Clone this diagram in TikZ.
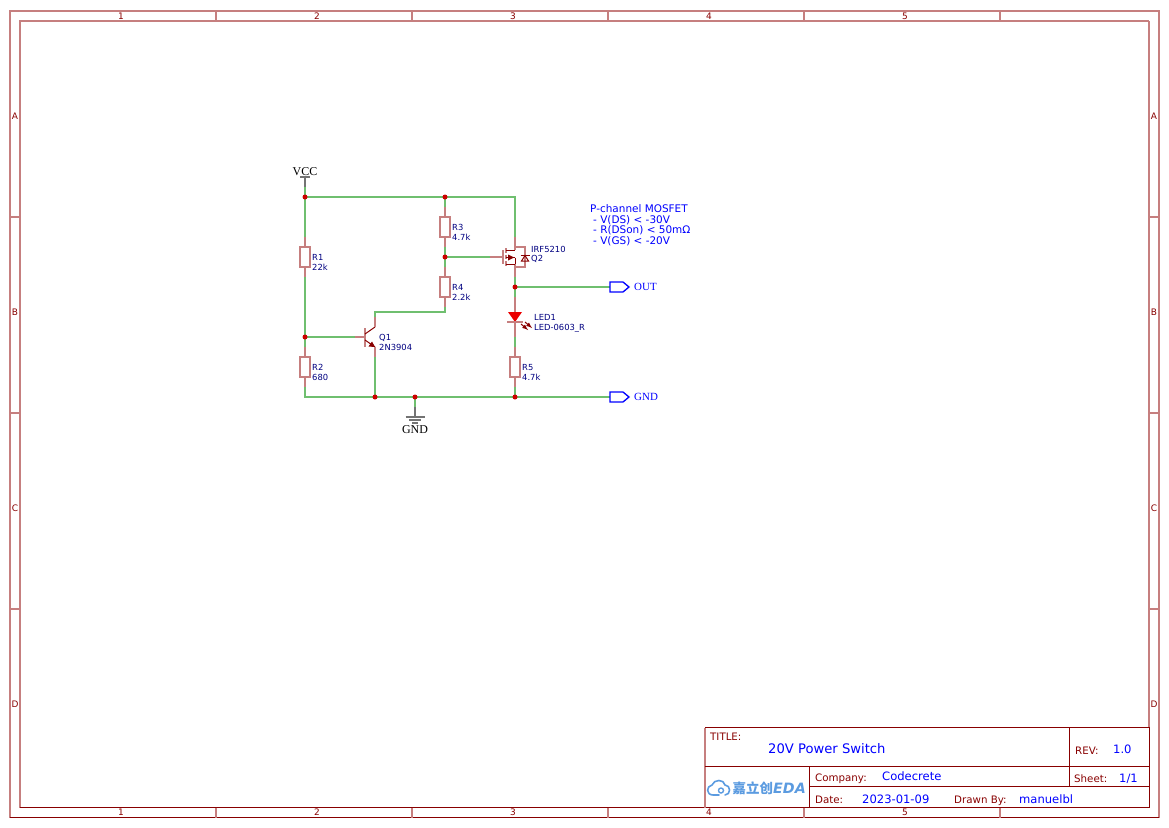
\documentclass[tikz,border=0pt]{standalone}
\usepackage{fontspec}
\setmainfont{DejaVu Sans}
\newfontfamily\netfont{Liberation Serif}
\newfontfamily\cjkfont{Noto Sans CJK SC}
\definecolor{framered}{HTML}{880000}
\definecolor{softred}{HTML}{C67F7F}
\definecolor{softgreen}{HTML}{6FBF6F}
\definecolor{partblue}{HTML}{000080}
\definecolor{logoblue}{HTML}{5B9BE0}
\tikzset{
	frameline/.style={softred,line width=2bp},
	blockline/.style={framered,line width=1bp},
	wire/.style={softgreen,line width=2bp},
	sym/.style={softred,line width=2bp},
	symthin/.style={framered,line width=1bp},
	pwr/.style={black!55,line width=2bp},
	res/.style={draw=softred,line width=2bp,minimum width=10bp,minimum height=20bp,inner sep=0pt,outer sep=0pt},
	junction/.style={fill=red!80!black,draw=none,circle,minimum size=5bp,inner sep=0pt},
	flag/.style={blue,line width=1.3bp},
	partlbl/.style={partblue,font=\fontsize{8.4}{10}\selectfont,anchor=base west,inner sep=0pt},
	framelbl/.style={framered,font=\fontsize{9}{11}\selectfont,inner sep=0pt},
	netlbl/.style={font=\netfont\fontsize{11}{13}\selectfont,inner sep=0pt},
	pwrlbl/.style={font=\netfont\fontsize{12}{14}\selectfont,inner sep=0pt},
	notelbl/.style={blue,font=\fontsize{10.5}{12}\selectfont,anchor=base west,inner sep=0pt},
	infolbl/.style={framered,font=\fontsize{10.3}{12}\selectfont,anchor=base west,inner sep=0pt},
	infoval/.style={blue,font=\fontsize{11.6}{13}\selectfont,anchor=base west,inner sep=0pt},
}
\begin{document}
\begin{tikzpicture}[x=1bp,y=-1bp]
	\useasboundingbox (0,0) rectangle (1169,828);
	\draw[frameline] (10,817.5) -- (10,11) -- (1159,11) -- (1159,817.5);
	\draw[frameline] (20,807.5) -- (20,21) -- (1149,21);
	\draw[blockline] (10,817.5) -- (1159,817.5);
	\draw[blockline] (20,807.5) -- (1149,807.5);
	\foreach \x in {216,412,608,804,1000} {
	\draw[frameline] (\x,11) -- (\x,21);
	\draw[frameline] (\x,807.5) -- (\x,817.5);
	}
	\foreach \y in {217,413,609} {
	\draw[frameline] (10,\y) -- (20,\y);
	\draw[frameline] (1149,\y) -- (1159,\y);
	}
	\foreach \n/\x in {1/121,2/317,3/513,4/709,5/905} {
	\node[framelbl] (top\n) at (\x,16) {\n};
	\node[framelbl] (bot\n) at (\x,812.5) {\n};
	}
	\foreach \n/\y in {A/116,B/312,C/508,D/704} {
	\node[framelbl] (left\n) at (15,\y) {\n};
	\node[framelbl] (right\n) at (1154,\y) {\n};
	}
	% title block
	\draw[frameline] (705,727.5) -- (705,807.5);
	\draw[frameline] (1149,21) -- (1149,727.5);
	\draw[blockline] (705,727.5) -- (1149,727.5) -- (1149,807.5);
	\draw[blockline] (705,766.5) -- (1149,766.5);
	\draw[blockline] (809.5,786.5) -- (1149,786.5);
	\draw[blockline] (1069.5,727.5) -- (1069.5,786.5);
	\draw[blockline] (809.5,766.5) -- (809.5,807.5);
	\node[infolbl] (titlekey) at (710,740) {TITLE:};
	\node[blue,font=\fontsize{13.2}{15}\selectfont,anchor=base west,inner sep=0pt] (titleval) at (768,753) {20V Power Switch};
	\node[infolbl] (revkey) at (1075,754) {REV:};
	\node[infoval] (revval) at (1113,753.5) {1.0};
	\node[infolbl] (compkey) at (815,781) {Company:};
	\node[infoval] (compval) at (882,780.5) {Codecrete};
	\node[infolbl] (sheetkey) at (1074,782.5) {Sheet:};
	\node[infoval] (sheetval) at (1119,782.5) {1/1};
	\node[infolbl] (datekey) at (815,803) {Date:};
	\node[infoval] (dateval) at (862,803) {2023-01-09};
	\node[infolbl] (drawnkey) at (954,803) {Drawn By:};
	\node[infoval] (drawnval) at (1019,803) {manuelbl};
	% logo
	\draw[logoblue,line width=1.6pt,line cap=round,line join=round] (719,795) -- (713,795) .. controls (706,795) and (706,786) .. (712,785) .. controls (714,779) and (724,779) .. (725,785) .. controls (731,785) and (731,795) .. (725,795);
	\draw[logoblue,line width=1.4pt] (721,790.5) circle (2.5);
	\node[logoblue,font=\cjkfont\bfseries\fontsize{13.5}{15}\selectfont,anchor=base west,inner sep=0pt] (logocjk) at (732.5,793) {嘉立创};
	\node[logoblue,font=\bfseries\itshape\fontsize{14.3}{15}\selectfont,anchor=base west,inner sep=0pt] (logoeda) at (773,793) {EDA};
	% junctions
	\foreach \name/\x/\y in {jA/305/197,jB/445/197,jC/445/257,jD/305/337,jE/375/397,jF/415/397,jG/515/397,jH/515/287} {
	\coordinate (\name) at (\x,\y);
	}
	% resistors
	\foreach \name/\x/\y/\val in {R1/305/257/22k,R2/305/367/680,R3/445/227/4.7k,R4/445/287/2.2k,R5/515/367/4.7k} {
	\node[res] (\name) at (\x,\y) {};
	\coordinate (\name a) at (\x,\y-20);
	\coordinate (\name b) at (\x,\y+20);
	\draw[sym] (\name.north) -- (\name a);
	\draw[sym] (\name.south) -- (\name b);
	\node[partlbl] (\name lbl) at (\x+7,\y+3) {\name};
	\node[partlbl] (\name val) at (\x+7,\y+13) {\val};
	}
	% Q1
	\coordinate (Q1b) at (355,337);
	\coordinate (Q1c) at (375,317);
	\coordinate (Q1e) at (375,357);
	\coordinate (Q1jog) at (375,312);
	\draw[sym] (Q1b) -- (364.5,337);
	\draw[sym] (364.5,328) -- (364.5,347);
	\draw[symthin] (365,334) -- (375,327);
	\draw[symthin] (365,340) -- (375,347);
	\draw[sym] (375,327) -- (Q1c);
	\draw[sym] (375,347) -- (Q1e);
	\fill[framered] (375,347) -- (368.5,346.5) -- (372,341.5) -- cycle;
	\node[partlbl] (Q1lbl) at (379,340) {Q1};
	\node[partlbl] (Q1val) at (379,350) {2N3904};
	% Q2
	\coordinate (Q2g) at (490,257);
	\coordinate (Q2d) at (515,237);
	\coordinate (Q2s) at (515,277);
	\draw[sym] (Q2g) -- (503,257);
	\draw[sym] (503,250) -- (503,264);
	\draw[sym] (506,248) -- (506,253) (506,255) -- (506,259) (506,261) -- (506,266);
	\draw[symthin] (506,250.5) -- (515,250.5);
	\draw[sym] (Q2d) -- (515,250);
	\draw[sym] (515,247) -- (525,247) -- (525,267) -- (515,267);
	\draw[sym] (515,264) -- (Q2s);
	\draw[symthin] (506,264.5) -- (515,264.5);
	\draw[symthin] (506,257.5) -- (515,257.5);
	\draw[symthin] (515,257.5) -- (515,264);
	\fill[framered] (514,257.5) -- (508,254.5) -- (508,260.5) -- cycle;
	\draw[symthin] (520.5,255.5) -- (529.5,255.5);
	\draw[symthin] (525,255.5) -- (521.5,261) -- (528.5,261) -- cycle;
	\node[partlbl] (Q2val) at (531,252) {IRF5210};
	\node[partlbl] (Q2lbl) at (531,261) {Q2};
	% LED1
	\coordinate (LEDa) at (515,297);
	\coordinate (LEDk) at (515,337);
	\draw[sym] (LEDa) -- (LEDk);
	\fill[red!92!black] (508,312) -- (522,312) -- (515,322) -- cycle;
	\draw[sym] (507,322) -- (523,322);
	\draw[symthin,-latex] (521,324) -- (528,330);
	\draw[symthin,-latex] (525,322) -- (532,328);
	\node[partlbl] (LEDlbl) at (534,320) {LED1};
	\node[partlbl] (LEDval) at (534,330) {LED-0603\_R};
	% power symbols
	\coordinate (vccpin) at (305,187);
	\coordinate (vcctop) at (305,177);
	\draw[pwr] (vccpin) -- (vcctop);
	\draw[pwr] (300,177) -- (310,177);
	\node[pwrlbl] (vcclbl) at (305,171.5) {VCC};
	\coordinate (gndpin) at (415,407);
	\coordinate (gndtop) at (415,417);
	\draw[pwr] (gndpin) -- (gndtop);
	\draw[pwr] (405.5,417) -- (424.5,417);
	\draw[pwr] (409,420) -- (421,420);
	\draw[pwr] (412,423) -- (418,423);
	\node[pwrlbl] (gndlbl) at (415,429.5) {GND};
	% net flags
	\coordinate (outflag) at (610,287);
	\coordinate (gndflag) at (610,397);
	% wires
	\draw[wire] (vccpin) -- (jA);
	\draw[wire] (jA) -- (jB);
	\draw[wire] (jB) -| (Q2d);
	\draw[wire] (jA) -- (R1a);
	\draw[wire] (R1b) -- (jD);
	\draw[wire] (jD) -- (R2a);
	\draw[wire] (jD) -- (Q1b);
	\draw[wire] (R2b) |- (jE);
	\draw[wire] (jE) -- (jF);
	\draw[wire] (jF) -- (jG);
	\draw[wire] (jG) -- (gndflag);
	\draw[wire] (jF) -- (gndpin);
	\draw[wire] (Q1e) -- (jE);
	\draw[wire] (jB) -- (R3a);
	\draw[wire] (R3b) -- (jC);
	\draw[wire] (jC) -- (R4a);
	\draw[wire] (jC) -- (Q2g);
	\draw[wire] (Q1c) -- (Q1jog) -| (R4b);
	\draw[wire] (Q2s) -- (jH);
	\draw[wire] (jH) -- (outflag);
	\draw[wire] (jH) -- (LEDa);
	\draw[wire] (LEDk) -- (R5a);
	\draw[wire] (R5b) -- (jG);
	\foreach \pin/\y/\txt in {outflag/287/OUT,gndflag/397/GND} {
	\draw[flag] (\pin) -- (610,\y-5) -- (623,\y-5) -- (629,\y) -- (623,\y+5) -- (610,\y+5) -- cycle;
	\node[netlbl,blue,anchor=west] (\pin lbl) at (634,\y) {\txt};
	}
	\foreach \name in {jA,jB,jC,jD,jE,jF,jG,jH} {
	\node[junction] (\name dot) at (\name) {};
	}
	% note
	\node[notelbl] (noteA) at (590,212.5) {P-channel MOSFET};
	\node[notelbl] (noteB) at (593,223) {- V(DS) < -30V};
	\node[notelbl] (noteC) at (593,233.5) {- R(DSon) < 50mΩ};
	\node[notelbl] (noteD) at (593,244) {- V(GS) < -20V};
\end{tikzpicture}
\end{document}
